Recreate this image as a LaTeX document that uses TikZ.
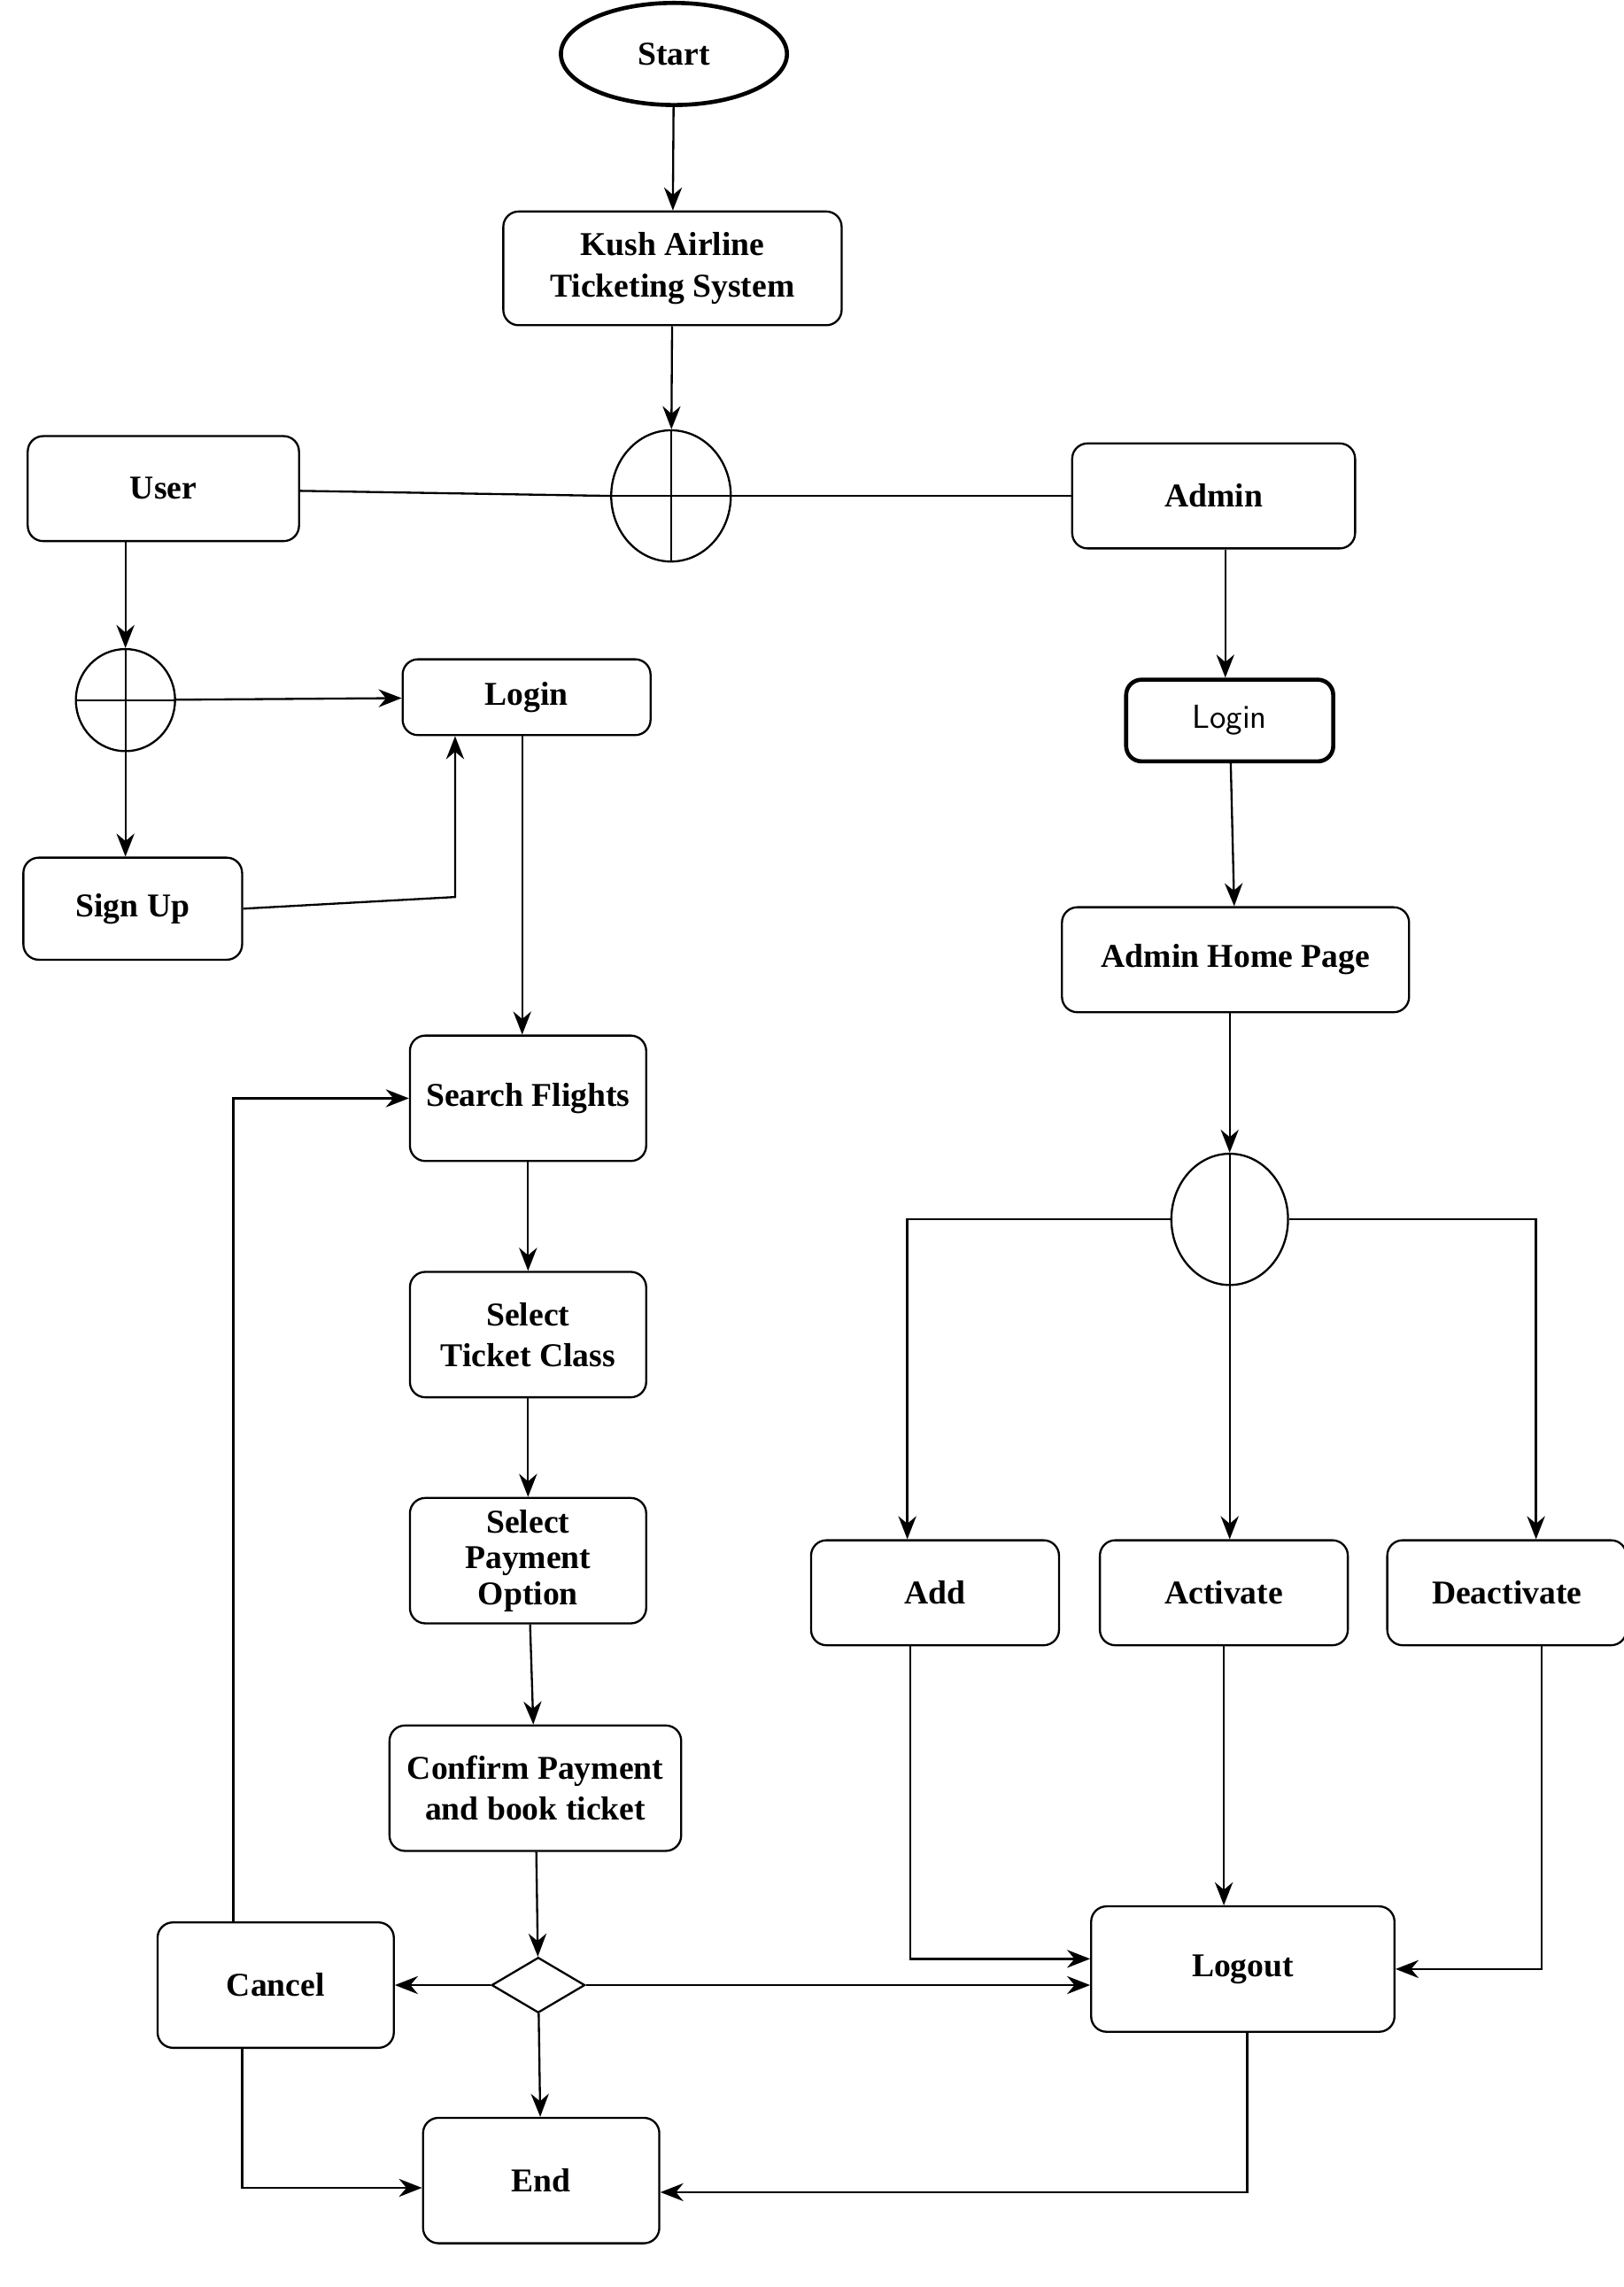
\documentclass[tikz,border=0pt]{standalone}
\usepackage{fontspec}
\setmainfont{Liberation Serif}
\usetikzlibrary{shapes.geometric,arrows.meta}
\tikzset{
  box/.style={draw,rounded corners=6pt,align=center,font=\bfseries\fontsize{13}{16}\selectfont,line width=0.8pt},
  junc/.style={draw,ellipse,line width=0.8pt},
  arr/.style={-{Stealth[length=9pt,width=7pt]},line width=0.8pt},
  ln/.style={line width=0.8pt}
}
\begin{document}
\begin{tikzpicture}[x=0.02cm,y=-0.02cm]
\useasboundingbox (0,0) rectangle (1113,1568);

\node[draw,ellipse,line width=1.6pt,minimum width=3.1cm,minimum height=1.4cm,font=\bfseries\fontsize{13}{16}\selectfont] (start) at (462,37) {Start};
\node[box,minimum width=4.64cm,minimum height=1.56cm] (kush) at (461,184) {Kush Airline\\Ticketing System};
\node[junc,minimum width=1.64cm,minimum height=1.8cm] (j1) at (460,340) {};
\node[box,minimum width=3.72cm,minimum height=1.44cm] (user) at (112,335) {User};
\node[box,minimum width=3.88cm,minimum height=1.44cm] (admin) at (832,340) {Admin};
\node[junc,minimum width=1.36cm,minimum height=1.4cm] (j2) at (86,480) {};
\node[box,minimum width=3.4cm,minimum height=1.04cm] (login) at (361,478) {Login};
\node[box,minimum width=3cm,minimum height=1.4cm] (signup) at (91,623) {Sign Up};
\node[box,line width=1.6pt,font=\fontsize{13}{16}\sffamily,minimum width=2.84cm,minimum height=1.12cm] (alogin) at (843,494) {Login};
\node[box,minimum width=4.76cm,minimum height=1.44cm] (ahome) at (847,658) {Admin Home Page};
\node[box,minimum width=3.24cm,minimum height=1.72cm] (search) at (362,753) {Search Flights};
\node[junc,minimum width=1.6cm,minimum height=1.8cm] (j3) at (843,836) {};
\node[box,minimum width=3.24cm,minimum height=1.72cm] (ticket) at (362,915) {Select\\Ticket Class};
\node[box,minimum width=3.24cm,minimum height=1.72cm,font=\bfseries\fontsize{13}{14}\selectfont] (payment) at (362,1070) {Select\\Payment\\Option};
\node[box,minimum width=4cm,minimum height=1.72cm] (confirm) at (367,1226) {Confirm Payment\\and book ticket};
\node[draw,diamond,aspect=1.7,line width=0.8pt,minimum width=1.28cm,minimum height=0.76cm,inner sep=0pt] (dec) at (369,1361) {};
\node[box,minimum width=3.24cm,minimum height=1.72cm] (cancel) at (189,1361) {Cancel};
\node[box,minimum width=3.24cm,minimum height=1.72cm] (end) at (371,1495) {End};
\node[box,minimum width=3.4cm,minimum height=1.44cm] (add) at (641,1092) {Add};
\node[box,minimum width=3.4cm,minimum height=1.44cm] (activate) at (839,1092) {Activate};
\node[box,minimum width=3.28cm,minimum height=1.44cm] (deactivate) at (1033,1092) {Deactivate};
\node[box,minimum width=4.16cm,minimum height=1.72cm] (logout) at (852,1350) {Logout};

% junction crosses
\draw[ln] (j1.north) -- (j1.south) (j1.west) -- (j1.east);
\draw[ln] (j2.north) -- (j2.south) (j2.west) -- (j2.east);
\draw[ln] (j3.north) -- (j3.south);

% top part
\draw[arr] (start) -- (kush);
\draw[arr] (kush) -- (j1);
\draw[ln] (user) -- (j1.west);
\draw[ln] (j1.east) -- (admin);
\draw[arr] (user.south -| j2) -- (j2);
\draw[arr] (j2) -- (login);
\draw[arr] (j2) -- (signup.north -| j2);
\draw[arr] (signup.east) -- (312,615) -- (login.south -| 312,0);
\draw[arr] (login.south -| 358,0) -- (search.north -| 358,0);

% admin side
\draw[arr] (admin.south -| 840,0) -- (alogin.north -| 840,0);
\draw[arr] (alogin) -- (ahome);
\draw[arr] (ahome.south -| j3) -- (j3);
\draw[arr] (j3.west) -- (622,836) -- (add.north -| 622,0);
\draw[arr] (j3.east) -- (1053,836) -- (deactivate.north -| 1053,0);
\draw[arr] (j3) -- (activate.north -| j3);

% user booking
\draw[arr] (search) -- (ticket);
\draw[arr] (ticket) -- (payment);
\draw[arr] (payment) -- (confirm);
\draw[arr] (confirm) -- (dec);
\draw[arr] (dec) -- (cancel);
\draw[arr] (dec) -- (logout.west |- dec);
\draw[arr] (dec) -- (end);
\draw[arr] (cancel.north -| 160,0) -- (160,753) -- (search);
\draw[arr] (cancel.south -| 166,0) -- (166,1500) -- (end.west |- 0,1500);
\draw[arr] (add.south -| 624,0) -- (624,1343) -- (logout.west |- 0,1343);
\draw[arr] (activate) -- (logout.north -| activate);
\draw[arr] (deactivate.south -| 1057,0) -- (1057,1350) -- (logout.east);
\draw[arr] (logout.south -| 855,0) -- (855,1503) -- (end.east |- 0,1503);
\end{tikzpicture}
\end{document}
